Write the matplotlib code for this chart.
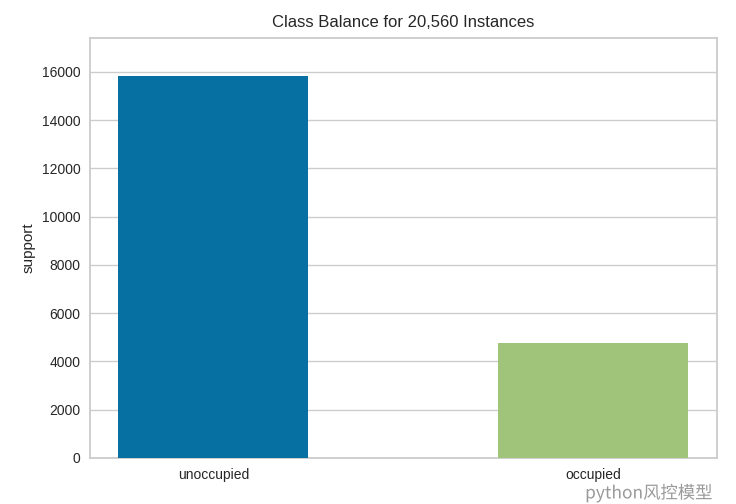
import matplotlib
matplotlib.use("Agg")
import matplotlib.pyplot as plt
import matplotlib.patheffects as pe

CLASSES = ["unoccupied", "occupied"]
SUPPORT = [15810, 4750]
COLORS = ["#0570a1", "#a0c57a"]

plt.rcParams["font.family"] = ["Liberation Sans", "DejaVu Sans"]

fig = plt.figure(figsize=(7.36, 5.04), dpi=100)
ax = fig.add_axes([0.1223, 0.0913, 0.8519, 0.8333])

xs = list(range(len(CLASSES)))
ax.bar(xs, SUPPORT, width=0.5, color=COLORS, zorder=3)

ax.set_xlim(-0.325, 1.327)
ax.set_ylim(0, 17400)
ax.set_xticks(xs)
ax.set_xticklabels(CLASSES)
ax.set_yticks(range(0, 16001, 2000))
ax.tick_params(length=0, labelsize=10, colors="#262626", pad=7)
ax.grid(axis="y", color="#cccccc", linewidth=1, zorder=0)
for s in ax.spines.values():
    s.set_color("#cccccc")
    s.set_linewidth(1.3)
ax.set_ylabel("support", fontsize=11, color="#262626")
ax.set_title("Class Balance for {:,} Instances".format(sum(SUPPORT)),
             fontsize=12, color="#262626", pad=8)

# watermark (kept just below the tick label so the two do not collide)
fig.text(0.968, 0.022, "python风控模型", fontsize=12.5, color="#9a9a9a",
         family=["Noto Sans CJK SC", "DejaVu Sans"], ha="right", va="center",
         path_effects=[pe.withStroke(linewidth=2, foreground="white")])

fig.savefig("out.png", dpi=100)
